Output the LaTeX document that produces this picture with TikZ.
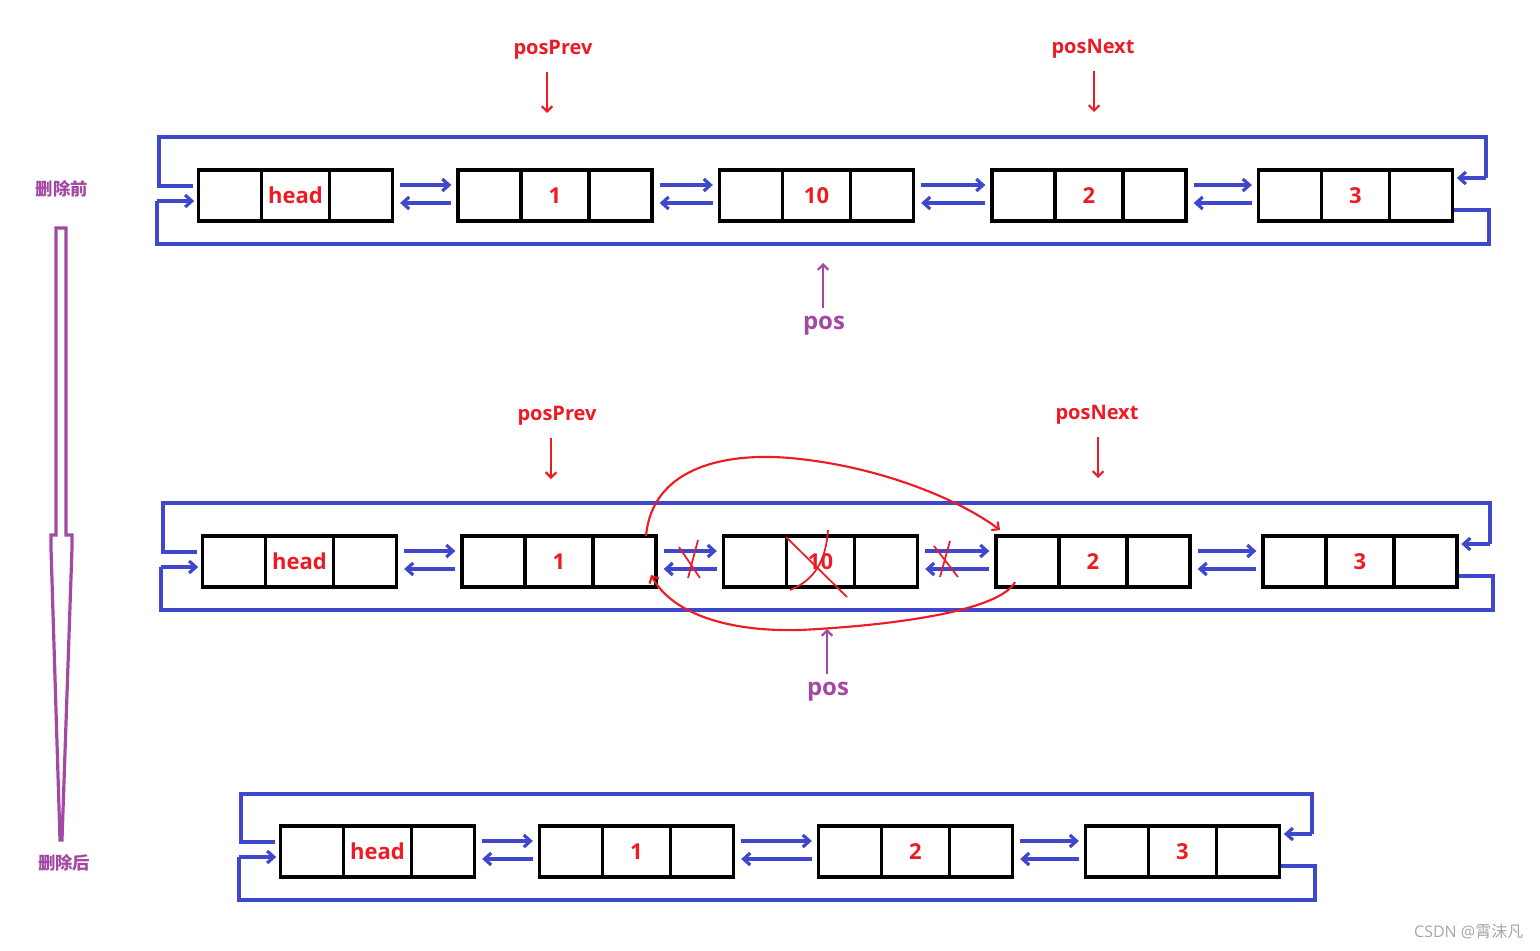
\documentclass[tikz,border=0pt]{standalone}
\usepackage{fontspec}
\setmainfont{Open Sans}
\newfontfamily\cjk{Noto Sans CJK SC}
\usetikzlibrary{arrows.meta}
\definecolor{lb}{HTML}{3F48CC}
\definecolor{lr}{HTML}{ED1C24}
\definecolor{lpur}{HTML}{A349A4}
\newcommand\llnode[4]{%
  \node[box] (#1) at (#2,#3) {};
  \draw[line width=2.5pt] ([xshift=64.7*0.75pt]#1.north west) -- ([xshift=64.7*0.75pt]#1.south west)
    ([xshift=-64.7*0.75pt]#1.north east) -- ([xshift=-64.7*0.75pt]#1.south east);
  \node[txt] at (#1) {#4};}
\newcommand\llpair[2]{%
  \draw[ln] ([shift={(6,-10.5)}]#1.east) -- ([shift={(-5,-10.5)}]#2.west);
  \draw[ln] ([shift={(-5,7.5)}]#2.west) -- ([shift={(6,7.5)}]#1.east);}
\begin{document}
\begin{tikzpicture}[x=0.75pt,y=-0.75pt,
  box/.style={draw,line width=2.5pt,minimum width=194*0.75pt,minimum height=51*0.75pt,inner sep=0pt},
  txt/.style={text=lr,font=\bfseries\fontsize{16.5}{18}\selectfont},
  ln/.style={lb,line width=2.4pt,-{Straight Barb[length=5pt,width=9pt]}},
  loopl/.style={lb,line width=2.4pt},
  rl/.style={text=lr,font=\bfseries\fontsize{15}{17}\selectfont},
  pl/.style={text=lpur,font=\bfseries\fontsize{18}{20}\selectfont},
  ra/.style={lr,line width=1.6pt,-{Straight Barb[length=4pt,width=8pt]}},
  pa/.style={lpur,line width=1.6pt,-{Straight Barb[length=4pt,width=8pt]}},
  sc/.style={lr,line width=1.3pt}]
\useasboundingbox (0,0) rectangle (1540,950);
% ---------- row 1
\llnode{ha}{295.5}{195.5}{head}
\llnode{aa}{555}{195.5}{1}
\llnode{ba}{816.5}{195.5}{10}
\llnode{ca}{1089}{195.5}{2}
\llnode{da}{1355.5}{195.5}{3}
\llpair{ha}{aa}\llpair{aa}{ba}\llpair{ba}{ca}\llpair{ca}{da}
\draw[loopl] ([xshift=-3]ha.west|-0,186) -- (159,186) -- (159,137) -- (1486,137) -- (1486,178);
\draw[ln] (1486,178) -- ([xshift=2]da.east|-0,178);
\draw[loopl] (da.east|-0,210) -- (1489,210) -- (1489,244) -- (157,244) -- (157,201);
\draw[ln] (157,201) -- ([xshift=-2]ha.west|-0,201);
\node[rl] (pp1) at (553,50) {posPrev};
\node[rl] (pn1) at (1093,49) {posNext};
\node[pl] (po1) at (824,326) {pos};
\coordinate (e1) at (547,113); \coordinate (e2) at (1094,112); \coordinate (e3) at (823,263);
\draw[ra] (pp1.south -| e1) ++(0,8) -- (e1);
\draw[ra] (pn1.south -| e2) ++(0,8) -- (e2);
\draw[pa] (po1.north -| e3) ++(0,-4) -- (e3);
% ---------- row 2
\llnode{hb}{299.5}{561.5}{head}
\llnode{ab}{559}{561.5}{1}
\llnode{bb}{820.5}{561.5}{10}
\llnode{cb}{1093}{561.5}{2}
\llnode{db}{1360}{561.5}{3}
\llpair{hb}{ab}\llpair{ab}{bb}\llpair{bb}{cb}\llpair{cb}{db}
\draw[loopl] ([xshift=-3]hb.west|-0,552) -- (163,552) -- (163,503) -- (1490,503) -- (1490,544);
\draw[ln] (1490,544) -- ([xshift=2]db.east|-0,544);
\draw[loopl] (db.east|-0,576) -- (1493,576) -- (1493,610) -- (161,610) -- (161,567);
\draw[ln] (161,567) -- ([xshift=-2]hb.west|-0,567);
\node[rl] (pp2) at (557,416) {posPrev};
\node[rl] (pn2) at (1097,415) {posNext};
\node[pl] (po2) at (828,692) {pos};
\coordinate (f1) at (551,479); \coordinate (f2) at (1098,478); \coordinate (f3) at (827,629);
\draw[ra] (pp2.south -| f1) ++(0,8) -- (f1);
\draw[ra] (pn2.south -| f2) ++(0,8) -- (f2);
\draw[pa] (po2.north -| f3) ++(0,-4) -- (f3);
% red scribbles
\draw[ra] (646,536) .. controls (652,470) and (720,452) .. (790,458)
  .. controls (880,466) and (960,500) .. (1000,530);
\draw[ra] (1015,582) .. controls (1000,610) and (900,625) .. (800,630)
  .. controls (720,632) and (670,610) .. (651,575);
\draw[sc] (679,547) -- (700,578) (698,540) -- (688,578);
\draw[sc] (934,546) -- (958,577) (950,541) -- (940,577);
\draw[sc] (786,537) -- (847,597) (828,530) .. controls (826,560) and (815,580) .. (790,590);
% ---------- row 3
\llnode{hc}{377.5}{851.5}{head}
\llnode{ac}{636.5}{851.5}{1}
\llnode{cc}{915.5}{851.5}{2}
\llnode{dc}{1182.5}{851.5}{3}
\llpair{hc}{ac}\llpair{ac}{cc}\llpair{cc}{dc}
\draw[loopl] ([xshift=-3]hc.west|-0,842) -- (241,842) -- (241,794) -- (1312,794) -- (1312,834);
\draw[ln] (1312,834) -- ([xshift=2]dc.east|-0,834);
\draw[loopl] (dc.east|-0,866) -- (1315,866) -- (1315,900) -- (239,900) -- (239,857);
\draw[ln] (239,857) -- ([xshift=-2]hc.west|-0,857);
% ---------- side arrow
\node[text=lpur,font=\cjk\bfseries\fontsize{13}{15}\selectfont] (bf) at (62,189) {删除前};
\node[text=lpur,font=\cjk\bfseries\fontsize{13}{15}\selectfont] (af) at (64,863) {删除后};
\draw[draw=lpur,line width=2.4pt,line join=miter]
  (56,228) -- (66,228) -- (66,535) -- (72,535) -- (72,548) -- (62,840) -- (60,840) -- (51,548) -- (51,535) -- (56,535) -- cycle;
\node[text=gray!70,font=\fontsize{12}{14}\selectfont,anchor=east] at (1528,931) {CSDN @{\cjk 霄沫凡}};
\end{tikzpicture}
\end{document}
